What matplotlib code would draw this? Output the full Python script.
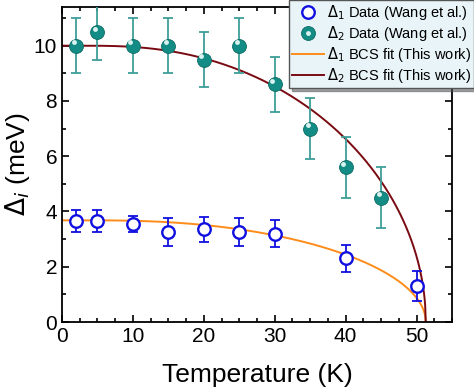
import numpy as np
import matplotlib
matplotlib.use("Agg")
import matplotlib.pyplot as plt
from matplotlib.ticker import MultipleLocator

plt.rcParams['font.family'] = ['Liberation Sans', 'DejaVu Sans']

# data
t2 = [2, 5, 10, 15, 20, 25, 30, 35, 40, 45]
d2 = [10.0, 10.5, 10.0, 10.0, 9.5, 10.0, 8.6, 7.0, 5.6, 4.5]
e2 = [1.0, 1.0, 1.0, 1.0, 1.0, 1.0, 1.0, 1.1, 1.1, 1.1]

t1 = [2, 5, 10, 15, 20, 25, 30, 40, 50]
d1 = [3.65, 3.65, 3.55, 3.25, 3.35, 3.25, 3.2, 2.3, 1.3]
e1 = [0.4, 0.4, 0.3, 0.5, 0.45, 0.5, 0.5, 0.5, 0.55]

# BCS fit parameters
tc = 51.3
gap1_0 = 3.68
gap2_0 = 10.0
alpha = 1.5

T = np.linspace(0.01, tc, 600)
fit1 = gap1_0 * np.tanh(alpha * np.sqrt(tc / T - 1))
fit2 = gap2_0 * np.tanh(alpha * np.sqrt(tc / T - 1))

teal = '#128c84'
teal_bar = '#3f9e98'
blue = '#1010e0'

fig = plt.figure(figsize=(4.74, 3.89), dpi=100)
ax = fig.add_axes([62 / 474, 1 - 322 / 389, 390 / 474, 315 / 389])

l1, = ax.plot(T, fit1, color='#ff8c1a', lw=1.4, zorder=2)
l2, = ax.plot(T, fit2, color='#7a0a12', lw=1.4, zorder=2)

ax.errorbar(t2, d2, yerr=e2, fmt='none', ecolor=teal_bar, elinewidth=1.3,
            capsize=3.5, capthick=1.3, zorder=3)
s2, = ax.plot(t2, d2, 'o', ms=10, color=teal, mec='#0c6b64', mew=0.6, zorder=4)
h2, = ax.plot(np.array(t2) - 0.35, np.array(d2) + 0.12, 'o', ms=3.5,
              color='#d8f2ef', mec='none', zorder=5)

ax.errorbar(t1, d1, yerr=e1, fmt='none', ecolor=blue, elinewidth=1.3,
            capsize=3.5, capthick=1.3, zorder=3)
s1, = ax.plot(t1, d1, 'o', ms=9, mfc='white', mec=blue, mew=1.7, zorder=4)

ax.set_xlim(0, 55)
ax.set_ylim(0, 11.4)
ax.xaxis.set_major_locator(MultipleLocator(10))
ax.xaxis.set_minor_locator(MultipleLocator(2.5))
ax.yaxis.set_major_locator(MultipleLocator(2))
ax.yaxis.set_minor_locator(MultipleLocator(1))
ax.tick_params(which='both', direction='in', top=True, right=True,
               labelsize=15, width=1.2)
ax.tick_params(which='major', length=5)
ax.tick_params(which='minor', length=3)
for sp in ax.spines.values():
    sp.set_linewidth(1.3)

ax.set_xlabel('Temperature (K)', fontsize=19, labelpad=12)
ax.set_ylabel(r'$\Delta_i$ (meV)', fontsize=19, labelpad=1)

leg = fig.legend([s1, (s2, h2), l1, l2],
                 [r'$\Delta_1$ Data (Wang et al.)', r'$\Delta_2$ Data (Wang et al.)',
                  r'$\Delta_1$ BCS fit (This work)', r'$\Delta_2$ BCS fit (This work)'],
                 loc='upper right', bbox_to_anchor=(1.0, 1.0), fontsize=10.5,
                 frameon=True, fancybox=False, shadow=True, handlelength=2.2,
                 borderpad=0.2, labelspacing=0.15, handletextpad=0.2,
                 borderaxespad=0.0)
leg.get_frame().set_facecolor('#e8f4f8')
leg.get_frame().set_edgecolor('#555555')
leg.get_frame().set_alpha(1)

fig.savefig('out.png', dpi=100)
